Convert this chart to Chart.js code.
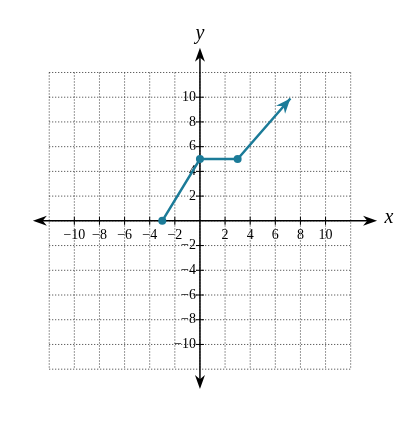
<!DOCTYPE html>
<html><head><meta charset="utf-8">
<script src="https://cdn.jsdelivr.net/npm/chart.js@4/dist/chart.umd.min.js"></script>
<style>body{margin:0;background:#fff}#wrap{width:420px;height:423px}</style>
</head><body><div id="wrap"><canvas id="c"></canvas></div>
<script>
var xs = [-3, 0, 3, 7.2];
var ys = [0, 5, 5, 9.9];
var pointSizes = [4, 4, 4, 0];
var tickVals = [-10, -8, -6, -4, -2, 2, 4, 6, 8, 10];
var gridVals = [-12, -10, -8, -6, -4, -2, 0, 2, 4, 6, 8, 10, 12];
var lineColor = '#1b7b98';

var pts = xs.map(function(x, i){ return {x: x, y: ys[i]}; });

function arrow(ctx, x1, y1, x2, y2, len, w){
  var a = Math.atan2(y2 - y1, x2 - x1);
  ctx.beginPath();
  ctx.moveTo(x2, y2);
  ctx.lineTo(x2 - len*Math.cos(a) + w*Math.sin(a), y2 - len*Math.sin(a) - w*Math.cos(a));
  ctx.lineTo(x2 - len*0.7*Math.cos(a), y2 - len*0.7*Math.sin(a));
  ctx.lineTo(x2 - len*Math.cos(a) - w*Math.sin(a), y2 - len*Math.sin(a) + w*Math.cos(a));
  ctx.closePath();
  ctx.fill();
}

var axesPlugin = {
  id: 'axes',
  beforeDatasetsDraw: function(chart){
    var ctx = chart.ctx, sx = chart.scales.x, sy = chart.scales.y;
    ctx.save();
    // dotted grid
    ctx.strokeStyle = '#333'; ctx.lineWidth = 1; ctx.setLineDash([1, 2]);
    gridVals.forEach(function(v){
      ctx.beginPath(); ctx.moveTo(sx.getPixelForValue(v), sy.getPixelForValue(12));
      ctx.lineTo(sx.getPixelForValue(v), sy.getPixelForValue(-12)); ctx.stroke();
      ctx.beginPath(); ctx.moveTo(sx.getPixelForValue(-12), sy.getPixelForValue(v));
      ctx.lineTo(sx.getPixelForValue(12), sy.getPixelForValue(v)); ctx.stroke();
    });
    ctx.setLineDash([]);
    var x0 = sx.getPixelForValue(0), y0 = sy.getPixelForValue(0);
    ctx.strokeStyle = '#000'; ctx.fillStyle = '#000'; ctx.lineWidth = 1.5;
    var l = sx.getPixelForValue(-13.3), r = sx.getPixelForValue(14.1);
    var t = sy.getPixelForValue(14), b = sy.getPixelForValue(-13.6);
    ctx.beginPath(); ctx.moveTo(l + 5, y0); ctx.lineTo(r - 5, y0); ctx.stroke();
    ctx.beginPath(); ctx.moveTo(x0, t + 5); ctx.lineTo(x0, b - 5); ctx.stroke();
    arrow(ctx, x0, y0, r, y0, 14, 5); arrow(ctx, x0, y0, l, y0, 14, 5);
    arrow(ctx, x0, y0, x0, t, 14, 5); arrow(ctx, x0, y0, x0, b, 14, 5);
    // tick marks and labels
    ctx.lineWidth = 1;
    ctx.font = '14px "Liberation Serif", "DejaVu Serif", serif';
    tickVals.forEach(function(v){
      var px = sx.getPixelForValue(v), py = sy.getPixelForValue(v);
      ctx.beginPath(); ctx.moveTo(px, y0 - 4); ctx.lineTo(px, y0 + 4); ctx.stroke();
      ctx.beginPath(); ctx.moveTo(x0 - 4, py); ctx.lineTo(x0 + 4, py); ctx.stroke();
      var lab = v < 0 ? '\u2212' + (-v) : String(v);
      ctx.textAlign = 'center'; ctx.textBaseline = 'top';
      ctx.fillText(lab, px, y0 + 7);
      ctx.textAlign = 'right'; ctx.textBaseline = 'middle';
      ctx.fillText(lab, x0 - 4, py);
    });
    ctx.font = 'italic 20px "Liberation Serif", "DejaVu Serif", serif';
    ctx.textAlign = 'center'; ctx.textBaseline = 'middle';
    ctx.fillText('x', r + 12, y0 - 3);
    ctx.fillText('y', x0, t - 14);
    ctx.restore();
  },
  afterDatasetsDraw: function(chart){
    var ctx = chart.ctx, sx = chart.scales.x, sy = chart.scales.y, n = xs.length;
    ctx.save(); ctx.fillStyle = lineColor;
    arrow(ctx, sx.getPixelForValue(xs[n-2]), sy.getPixelForValue(ys[n-2]),
      sx.getPixelForValue(xs[n-1]), sy.getPixelForValue(ys[n-1]), 15, 6);
    ctx.restore();
  }
};

new Chart(document.getElementById('c'), {
  type: 'scatter',
  data: { datasets: [{
    data: pts, showLine: true, borderColor: lineColor, backgroundColor: lineColor,
    borderWidth: 2.5, pointRadius: pointSizes, pointBorderWidth: 0, tension: 0
  }]},
  options: {
    responsive: true, maintainAspectRatio: false, animation: false,
    layout: { padding: 0 },
    plugins: { legend: { display: false }, tooltip: { enabled: false } },
    scales: {
      x: { type: 'linear', display: false, min: -15.6, max: 17.2 },
      y: { type: 'linear', display: false, min: -16.03, max: 17.54 }
    }
  },
  plugins: [axesPlugin]
});
</script></body></html>
